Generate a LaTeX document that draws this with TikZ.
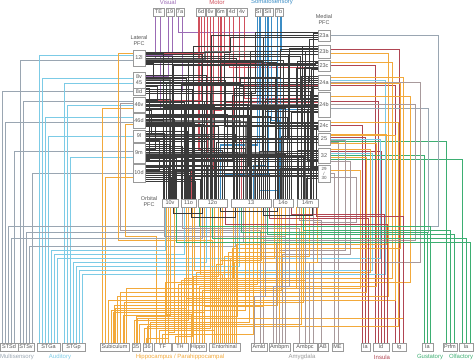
\documentclass[tikz,border=0pt]{standalone}
\usepackage{fontspec}
\setmainfont{Liberation Sans}
\definecolor{msc}{HTML}{9AA6B2}
\definecolor{aud}{HTML}{7CCBE6}
\definecolor{vis}{HTML}{9B6BB5}
\definecolor{mot}{HTML}{D0505C}
\definecolor{som}{HTML}{3C8DC5}
\definecolor{hip}{HTML}{F2A93B}
\definecolor{amy}{HTML}{A89A9C}
\definecolor{ins}{HTML}{B04552}
\definecolor{olf}{HTML}{3DAE72}
\definecolor{pfc}{HTML}{3A3A3A}
\definecolor{pfcband}{HTML}{777777}
\definecolor{boxgray}{HTML}{9A9A9A}
\definecolor{txtgray}{HTML}{555555}
\tikzset{
  box/.style={draw=boxgray, fill=white, line width=0.5pt, inner sep=0.3pt, align=center,
    text=txtgray, font=\fontsize{5.5}{6}\selectfont},
  lk/.style={line width=0.6pt},
  band/.style={line width=1.8pt},
  grp/.style={font=\fontsize{6}{7}\selectfont},
  area/.style={text=txtgray, align=center, font=\fontsize{5.5}{6}\selectfont},
}
\begin{document}
\begin{tikzpicture}[x=1pt, y=-1pt]
	\useasboundingbox (0,0) rectangle (474,361);

	% regions: name/x/y/width/height/text
	\def\regions{
		n12l/139/58/12/16/12l, n8v/139/80/12/16/{8v\\45}, n8d/139/91.5/12/7/8d,
		n46v/139/104.5/12/15/46v, n46d/139/120.5/12/15/46d, n9l/139/136/12/12/9l,
		n9m/139/153/12/20/9m, n10d/139/173/12/18/10d,
		n23a/324/35.5/12/11/23a, n23b/324/51.5/12/13/23b, n23c/324/65.5/12/11/23c,
		n24a/324/82.5/12/15/24a, n24b/324/104.5/12/25/24b, n24c/324/125.5/12/11/24c,
		n25/324/139/12/12/25, n32/324/155.5/12/15/32,
		n10v/170/203/16/8/10v, n11o/188.5/203/15/8/11o, n12o/212.5/203/29/8/12o,
		n13/251/203/40/8/13, n14o/283/203/20/8/14o, n14m/307.5/203/21/8/14m,
		te/158.5/12/11/8/TE, v19/170/12/8/8/19, v7a/180/12/8/8/7a,
		m6d/201/12/9/8/6d, m6v/210.5/12/9/8/6v, m6m/221/12/10/8/6m,
		m4d/232/12/10/8/4d, m4v/242/12/10/8/4v,
		si/258.5/12/7/8/SI, sii/268/12/10/8/SII, s7b/279/12/8/8/7b,
		stsd/9/347/18/8/STSd, stsv/26/347/16/8/STSv, stga/48.5/347/23/8/STGa, stgp/73.5/347/23/8/STGp,
		subic/114.5/347/29/8/Subiculum, h35/136/347/8/8/35, h36/147.5/347/9/8/36,
		tf/162.5/347/17/8/TF, th/180/347/16/8/TH, hippo/198/347/16/8/Hippo, ento/224.5/347/31/8/Entorhinal,
		amld/259/347/16/8/Amld, ambpm/279.5/347/21/8/Ambpm, ambpc/305/347/24/8/Ambpc,
		ab/323/347/10/8/AB, me/337.5/347/11/8/ME,
		ia/365.5/347/9/8/Ia, id/381/347/16/8/Id, ig/399/347/14/8/Ig,
		gia/427.5/347/11/8/Ia, prfm/450/347/14/8/Prfm, oia/466/347/14/8/Ia}
	\foreach \n/\x/\y/\w/\h/\lbl in \regions
		\node[box, minimum width=\w, minimum height=\h, draw=none, fill=none, text=white] (\n) at (\x,\y) {\lbl};
	\node[box, minimum width=12, minimum height=17, draw=none, fill=none] (n29) at (324,173.5) {};

	% bottom areas: up, then across to the column
	\foreach \col/\src/\dx/\dst/\dy in {
		msc/stsd.north/-7/n8d.west/0, msc/stsd.north/-4/n46d.west/-2, msc/stsd.north/5/n9m.west/2,
		msc/stsv.north/-6/n12l.west/-2, msc/stsv.north/-3/n46v.west/3, msc/stsv.north/6/n10d.west/0,
		aud/stga.north/-9/n12l.west/3, aud/stga.north/-6/n8v.west/2, aud/stga.north/-3/n46d.west/3,
		aud/stga.north/0/n9l.west/0, aud/stgp.north/-9/n8v.west/-3, aud/stgp.north/-6/n46v.west/-1,
		aud/stgp.north/-3/n9m.west/-4, hip/subic.north/-12/n46v.west/-4, hip/subic.north/-9/n10d.west/-4,
		ins/ia.north/-3/n24c.east/0, ins/ia.north/0/n25.east/2, ins/id.north/-6/n23c.east/0,
		ins/id.north/-3/n24b.east/3, ins/id.north/0/n32.east/4, ins/ig.north/-4/n24a.east/-3,
		ins/ig.north/0/n23b.east/2, olf/gia.north/-3/n32.east/0, olf/prfm.north/-4/n25.east/-2,
		olf/oia.north/-4/n32.east/-4, amy/me.north/-3/n29.east/0, amy/me.north/1/n25.east/-3}
		\draw[lk, \col] ([xshift=\dx]\src) |- ([yshift=\dy]\dst);

	% bottom areas: up, across to a side lane, then into the column
	\foreach \col/\src/\dx/\xx/\lev/\dst/\dy in {
		msc/stsd.north/-1/438/226/n23a.east/0, msc/stsv.north/0/428/232/n24b.east/-4,
		aud/stga.north/9/380/258/n25.east/0, aud/stgp.north/6/372/270/n32.east/2,
		aud/stgp.north/9/385/274/n24a.east/2, hip/subic.north/-6/395/300/n25.east/4,
		hip/subic.north/3/388/296/n23b.east/-2, hip/subic.north/6/366/292/n32.east/-2,
		hip/subic.north/12/360/288/n29.east/3, hip/h35.north/1/403/318/n24a.east/5,
		hip/h36.north/0/398/326/n24c.east/3, hip/tf.north/-6/125/236/n46d.west/-4,
		hip/tf.north/3/410/282/n24b.east/8, hip/th.north/4/392/278/n23c.east/3,
		hip/hippo.north/-2/370/272/n32.east/6, hip/hippo.north/1/376/286/n25.east/-4,
		hip/ento.north/8/400/248/n24a.east/-1, hip/ento.north/12/386/244/n25.east/5,
		hip/ento.north/-12/118/240/n12l.west/5, amy/amld.north/1/120/230/n46v.west/1,
		amy/amld.north/4/415/240/n24b.east/0, amy/ambpm.north/0/345/250/n25.east/-1,
		amy/ambpm.north/3/350/254/n32.east/-6, amy/ambpc.north/4/420/262/n24a.east/0,
		amy/ambpc.north/8/356/222/n29.east/-4}
		\draw[lk, \col] ([xshift=\dx]\src) |- (\xx,\lev) |- ([yshift=\dy]\dst);

	% bottom areas: up to a lane, then into the orbital row
	\foreach \col/\src/\dx/\lev/\dst/\dt in {
		msc/stsd.north/2/238/n12o.south/-10, msc/stsv.north/3/246/n13.south/-16,
		aud/stga.north/3/250/n10v.south/-5, aud/stga.north/6/254/n11o.south/-4,
		aud/stgp.north/0/262/n12o.south/-6, aud/stgp.north/3/266/n13.south/-12,
		hip/subic.north/-3/310/n13.south/-6, hip/subic.north/0/305/n14o.south/-6,
		hip/subic.north/9/315/n10v.south/0, hip/h35.north/-2/320/n11o.south/0,
		hip/h35.north/3/324/n14m.south/-6, hip/h36.north/-3/328/n12o.south/-2,
		hip/h36.north/3/322/n13.south/-2, hip/tf.north/-3/330/n12o.south/2,
		hip/tf.north/0/334/n13.south/2, hip/tf.north/6/332/n10v.south/4,
		hip/th.north/-5/336/n11o.south/4, hip/th.north/-2/284/n13.south/6,
		hip/th.north/1/280/n14m.south/-2, hip/hippo.north/-5/276/n12o.south/6,
		hip/hippo.north/4/290/n14o.south/-2, hip/ento.north/-8/264/n12o.south/10,
		hip/ento.north/-4/260/n13.south/10, hip/ento.north/0/256/n14m.south/2,
		hip/ento.north/4/252/n14o.south/2, hip/subic.north/1/308/n11o.south/-2,
		hip/subic.north/-1/312/n12o.south/-8, hip/subic.north/10/302/n14m.south/-4,
		hip/h35.north/0/316/n13.south/-14, hip/h36.north/1/318/n14o.south/-4,
		hip/h36.north/-1/338/n10v.south/-2, hip/th.north/6/298/n12o.south/8,
		hip/hippo.north/6/306/n13.south/12, hip/hippo.north/-7/314/n10v.south/-4,
		hip/ento.north/-10/270/n11o.south/6, hip/ento.north/-6/288/n14m.south/-11,
		hip/ento.north/-2/274/n12o.south/-12, hip/ento.north/2/278/n13.south/-18,
		hip/ento.north/6/258/n14o.south/-9, hip/ento.north/10/262/n14m.south/10,
		amy/amld.north/-5/296/n13.south/14,
		amy/ambpm.north/-6/286/n14o.south/6, amy/ambpm.north/-3/242/n13.south/-8,
		amy/ambpm.north/6/236/n10v.south/-6, amy/ambpc.north/-6/228/n11o.south/-6,
		amy/ambpc.north/0/234/n14m.south/6, amy/ab.north/-2/220/n14m.south/-8,
		ins/ia.north/3/218/n13.south/18, ins/id.north/3/214/n14o.south/8,
		ins/id.north/6/224/n12o.south/13, ins/ig.north/4/216/n14m.south/9,
		olf/gia.north/0/232/n13.south/-10, olf/gia.north/3/226/n12o.south/-13,
		olf/prfm.north/0/230/n14m.south/-4, olf/prfm.north/4/234/n13.south/16,
		olf/oia.north/0/238/n12o.south/0, olf/oia.north/4/242/n10v.south/6}
		\draw[lk, \col] ([xshift=\dx]\src) -- ([xshift=\dx]\src |- 0,\lev) -| ([xshift=\dt]\dst);

	% top areas: down, then across to the column
	\foreach \col/\src/\dx/\dst/\dy in {
		vis/te.south/-3/n12l.east/-3, vis/te.south/2/n46v.east/-4, vis/v19.south/-2/n8v.east/4,
		vis/v19.south/2/n12l.east/3, vis/v7a.south/-2/n23a.west/3, vis/v7a.south/2/n8d.east/0,
		mot/m6d.south/0/n46v.east/4, mot/m6d.south/3/n12l.east/5, mot/m6v.south/0/n46d.east/5,
		mot/m6m.south/-3/n24a.west/-3, mot/m6m.south/0/n23c.west/2, mot/m6m.south/3/n24b.west/2,
		mot/m4d.south/-3/n23c.west/-2, mot/m4d.south/1/n24c.west/0, mot/m4v.south/2/n24b.west/6,
		som/si.south/2/n24b.west/-5, som/s7b.south/-2/n24c.west/3, som/s7b.south/2/n23b.west/0}
		\draw[lk, \col] ([xshift=\dx]\src) |- ([yshift=\dy]\dst);

	% top areas: down into the orbital row
	\foreach \col/\src/\dx/\lev/\dst/\dt in {
		mot/m6v.south/-3/160/n12o.north/-4,
		mot/m6v.south/3/170/n11o.north/3, mot/m4v.south/-3/140/n13.north/-10,
		som/si.south/1/155/n13.north/-4,
		som/sii.south/-3/165/n13.north/2,
		som/sii.south/3/120/n14o.north/-4, som/s7b.south/1/190/n13.north/8}
		\draw[lk, \col] ([xshift=\dx]\src) -- ([xshift=\dx]\src |- 0,\lev) -| ([xshift=\dt]\dst);
	\foreach \col/\src/\dx/\lev/\dst/\dt in {
		mot/m6d.south/-2/150/n12o.north/-10, mot/m6m.south/0/110/n12o.north/-1,
		som/si.south/-1/145/n12o.north/8, som/sii.south/0/175/n12o.north/12}
		\draw[band, \col] ([xshift=\dx]\src) -- ([xshift=\dx]\src |- 0,\lev) -| ([xshift=\dt]\dst);

	% prefrontal: broad bands
	\foreach \src/\dy/\xx/\dst/\dt in {
		n12l/-1/205/n23b/0, n46v/0/300/n24b/0, n46d/0/240/n24c/0, n9m/0/280/n32/0}
		\draw[band, pfcband] ([yshift=\dy]\src.east) -- ([yshift=\dy]\src.east -| \xx,0) |- ([yshift=\dt]\dst.west);
	\foreach \src/\dy/\dst/\dx in {
		n10d/0/n11o/-4, n9l/0/n12o/-4, n46d/-1/n13/-5, n8v/0/n10v/0}
		\draw[band, pfcband] ([yshift=\dy]\src.east) -| ([xshift=\dx]\dst.north);
	\foreach \src/\dy/\dst/\dx in {
		n24b/0/n14o/0, n32/0/n13/4, n25/0/n14m/-2, n24a/0/n12o/0}
		\draw[band, pfcband] ([yshift=\dy]\src.west) -| ([xshift=\dx]\dst.north);

	% prefrontal: lateral to orbital
	\foreach \src/\dy/\dst/\dx in {
		n12l/4/n12o/-10, n12l/0/n13/-15, n12l/-4/n11o/0, n8v/5/n12o/-6, n8v/-3/n10v/-4,
		n8v/-5/n13/-8, n8d/2/n11o/4, n8d/-2/n12o/-2, n46v/5/n10v/0, n46v/2/n11o/-4,
		n46v/-2/n12o/2, n46v/-5/n14o/-5, n46d/5/n13/-2, n46d/1/n10v/4, n46d/-3/n11o/6,
		n46d/-6/n12o/6, n9l/3/n10v/-6, n9l/-2/n13/4, n9l/-3/n14m/-6, n9m/7/n11o/-6,
		n9m/3/n12o/10, n9m/-1/n14o/2, n9m/-5/n10v/6, n9m/-8/n13/10, n10d/6/n10v/-2,
		n10d/2/n11o/2, n10d/-2/n14m/0, n10d/-6/n12o/-12,
		n12l/2/n10v/2, n12l/-2/n14o/0, n8v/2/n11o/-2, n8v/-2/n14m/4, n8d/0/n13/0,
		n46v/0/n13/-4, n46d/3/n14o/4, n46d/-4/n12o/-8, n9l/5/n11o/-1, n9l/-5/n12o/-6,
		n9m/9/n10v/-1, n9m/1/n13/-14, n9m/-3/n14m/-4, n10d/8/n12o/0, n10d/4/n13/6,
		n10d/-4/n10v/1, n10d/-8/n11o/7}
		\draw[lk, pfc] ([yshift=\dy]\src.east) -| ([xshift=\dx]\dst.north);

	% prefrontal: lateral to medial
	\foreach \src/\dy/\xx/\dst/\dt in {
		n12l/6/230/n23a/-2, n12l/2/300/n24b/6, n12l/-3/262/n32/4, n12l/-6/315/n23c/3,
		n8v/3/280/n23b/2, n8v/-3/240/n24a/4, n8d/0/310/n25/3, n46v/3/250/n24b/-2,
		n46v/-1/296/n23c/-3, n46d/4/270/n24c/2, n46d/-2/305/n32/-4, n9l/2/235/n25/-3,
		n9l/-2/288/n23b/-3, n9m/5/245/n29/4, n9m/-2/312/n24a/-4, n9m/-4/275/n24c/-3,
		n10d/4/258/n32/0, n10d/-2/292/n29/-2, n12l/0/220/n24a/-2, n8v/0/225/n24c/-1,
		n8d/-2/255/n23a/3, n46v/-4/285/n25/1, n46d/6/227/n29/7, n46d/-5/302/n23b/5,
		n9l/0/265/n24b/-7, n9m/-7/232/n24b/9, n10d/7/248/n23c/0, n10d/0/308/n24a/6,
		n12l/-4/276/n32/-2}
		\draw[lk, pfc] ([yshift=\dy]\src.east) -- ([yshift=\dy]\src.east -| \xx,0) |- ([yshift=\dt]\dst.west);

	% prefrontal: medial to orbital
	\foreach \src/\dy/\dst/\dx in {
		n23a/2/n14m/6, n23a/-2/n13/12, n23b/3/n14o/6, n23b/-3/n12o/12, n23c/2/n13/16,
		n23c/-2/n14m/-3, n24a/4/n14o/-8, n24a/-2/n11o/-7, n24a/-4/n13/-12, n24b/8/n14m/3,
		n24b/3/n12o/-8, n24b/-3/n10v/-7, n24b/-8/n14o/8, n24c/3/n13/-18, n24c/-2/n14m/9,
		n25/3/n14o/-2, n25/-3/n12o/4, n32/4/n13/8, n32/-2/n14m/-9, n32/-4/n11o/-2,
		n29/5/n14o/-3, n29/0/n13/18, n29/-5/n14m/-1,
		n23a/0/n12o/-1, n23b/0/n13/-1, n23b/5/n11o/5, n23c/0/n10v/3, n24a/2/n14m/-6,
		n24a/-6/n13/-17, n24b/5/n13/14, n24b/-1/n11o/-3, n24b/-5/n14m/-10, n24c/0/n12o/-11,
		n32/2/n14o/-6, n32/-6/n12o/3, n29/3/n10v/5, n29/-3/n11o/1, n29/7/n12o/-5}
		\draw[lk, pfc] ([yshift=\dy]\src.west) -| ([xshift=\dx]\dst.north);

	% prefrontal: within a column or row
	\foreach \src/\dy/\w/\dst/\dt in {
		n12l/-5/8/n8v/3, n8v/-6/12/n46v/4, n46v/-6/6/n9l/2, n46d/-4/10/n9m/4,
		n9l/-4/14/n10d/3, n12l/5/18/n46d/0, n8d/3/4/n9m/-6}
		\draw[lk, pfc] ([yshift=\dy]\src.east) -- ++(\w,0) |- ([yshift=\dt]\dst.east);
	\foreach \src/\dy/\w/\dst/\dt in {
		n23a/-4/8/n24a/0, n23b/0/12/n24b/0, n23c/-4/6/n24c/0, n24a/6/16/n25/0,
		n24b/-5/10/n32/-5, n24c/-4/5/n29/6, n23c/4/20/n32/5}
		\draw[lk, pfc] ([yshift=\dy]\src.west) -- ++(-\w,0) |- ([yshift=\dt]\dst.west);
	\foreach \src/\dx/\h/\dst/\dt in {
		n10v/3/6/n12o/-10, n11o/3/10/n13/-16, n12o/8/4/n14o/-6, n13/12/8/n14m/5}
		\draw[lk, pfc] ([xshift=\dx]\src.south) -- ++(0,\h) -| ([xshift=\dt]\dst.south);

	% boxes on top of the lines
	\foreach \n/\x/\y/\w/\h/\lbl in \regions
		\node[box, minimum width=\w, minimum height=\h] at (\n) {\lbl};
	\node[box, minimum width=12, minimum height=17, font=\fontsize{4.5}{4.8}\selectfont] at (n29) {29\\/\\30};

	% group labels
	\node[area] (latpfc) at (139,41) {Lateral\\PFC};
	\node[area] (medpfc) at (324,20) {Medial\\PFC};
	\node[area] (orbpfc) at (149,202) {Orbital\\PFC};
	\node[grp, text=vis] (visual) at (168,2.5) {Visual};
	\node[grp, text=mot] (motor) at (217,2.5) {Motor};
	\node[grp, text=som] (somato) at (272,2.5) {Somatosensory};
	\node[grp, text=msc] (multi) at (17,357) {Multisensory};
	\node[grp, text=aud] (audit) at (60,357) {Auditory};
	\node[grp, text=hip] (hippoc) at (180,357) {Hippocampus / Parahippocampal};
	\node[grp, text=boxgray] (amyg) at (302,357) {Amygdala};
	\node[grp, text=ins] (insula) at (382,357) {Insula};
	\node[grp, text=olf] (gust) at (430,357) {Gustatory};
	\node[grp, text=olf] (olfac) at (461,357) {Olfactory};
\end{tikzpicture}
\end{document}
